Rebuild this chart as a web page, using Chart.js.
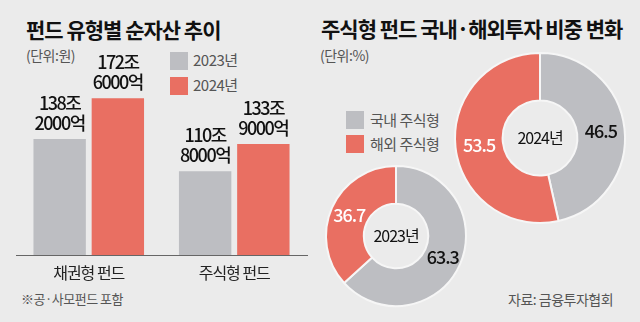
<!DOCTYPE html>
<html>
<head>
<meta charset="utf-8">
<script src="https://cdn.jsdelivr.net/npm/chart.js@4"></script>
<style>
    body { margin: 0; background: #ebebeb; font-family: 'Noto Sans CJK KR', sans-serif; }
    #wrap { position: relative; width: 640px; height: 322px; overflow: hidden; }
    .abs { position: absolute; white-space: nowrap; }
    .title { font-size: 21px; font-weight: bold; color: #111; letter-spacing: -1px; line-height: 1; }
    .unit { font-size: 14px; color: #555; letter-spacing: -0.5px; line-height: 1; }
    .leg { font-size: 15px; color: #555; letter-spacing: -0.5px; line-height: 1; }
    .sw { position: absolute; width: 18px; height: 18px; }
    canvas { position: absolute; }
</style>
</head>
<body>
<div id="wrap">
    <div class="abs title" style="left:26px; top:19px;">펀드 유형별 순자산 추이</div>
    <div class="abs unit" style="left:26px; top:48px;">(단위:원)</div>

    <div class="sw" style="left:170px; top:52px; background:#bdbec2;"></div>
    <div class="abs leg" style="left:193px; top:52px;">2023년</div>
    <div class="sw" style="left:170px; top:77px; background:#e96f62;"></div>
    <div class="abs leg" style="left:193px; top:77px;">2024년</div>

    <div class="abs unit" style="left:21px; top:292px; font-size:13px;">※공·사모펀드 포함</div>

    <div class="abs title" style="left:321px; top:18px;">주식형 펀드 국내·해외투자 비중 변화</div>
    <div class="abs unit" style="left:320px; top:48px;">(단위:%)</div>

    <div class="sw" style="left:346px; top:111px; background:#bdbec2;"></div>
    <div class="abs leg" style="left:370px; top:112px;">국내 주식형</div>
    <div class="sw" style="left:346px; top:135px; background:#e96f62;"></div>
    <div class="abs leg" style="left:370px; top:136px;">해외 주식형</div>

    <div class="abs leg" style="left:508px; top:292px; font-size:14px;">자료: 금융투자협회</div>

    <canvas id="barChart" style="left:0; top:0;" width="320" height="322"></canvas>
    <canvas id="pie2024" style="left:450px; top:48px;" width="180" height="180"></canvas>
    <canvas id="pie2023" style="left:321px; top:161px;" width="150" height="150"></canvas>
</div>

<script>
// 데이터 (단위: 조원)
const categories = ['채권형 펀드', '주식형 펀드'];
const years = ['2023년', '2024년'];
const values2023 = [138.2, 110.8];
const values2024 = [172.6, 133.9];
const labels2023 = [['138조', '2000억'], ['110조', '8000억']];
const labels2024 = [['172조', '6000억'], ['133조', '9000억']];

// 주식형 펀드 국내/해외 비중 (%)
const shareLabels = ['국내 주식형', '해외 주식형'];
const share2023 = [63.3, 36.7];
const share2024 = [46.5, 53.5];

const GRAY = '#bdbec2';
const RED = '#e96f62';
const FONT = "'Noto Sans CJK KR', sans-serif";

//region 막대 차트
const barLabelPlugin = {
    id: 'barLabels',
    afterDraw(chart) {
        const ctx = chart.ctx;
        const all = [labels2023, labels2024];
        ctx.save();
        ctx.fillStyle = '#111';
        ctx.textAlign = 'center';
        ctx.textBaseline = 'bottom';
        ctx.font = '500 18px ' + FONT;
        ctx.letterSpacing = '-1.5px';
        chart.data.datasets.forEach(function (ds, i) {
            chart.getDatasetMeta(i).data.forEach(function (bar, j) {
                let lines = all[i][j];
                ctx.fillText(lines[0], bar.x, bar.y - 27);
                ctx.fillText(lines[1], bar.x, bar.y - 7);
            });
        });
        // 카테고리 라벨
        ctx.font = '16px ' + FONT;
        ctx.letterSpacing = '-1px';
        ctx.fillStyle = '#222';
        ctx.textBaseline = 'middle';
        const xs = chart.scales.x;
        categories.forEach(function (c, k) {
            ctx.fillText(c, xs.getPixelForValue(k), 273);
        });
        ctx.restore();
    }
};

new Chart(document.getElementById('barChart'), {
    type: 'bar',
    data: {
        labels: categories,
        datasets: [{
            label: years[0],
            data: values2023,
            backgroundColor: GRAY
        }, {
            label: years[1],
            data: values2024,
            backgroundColor: RED
        }]
    },
    options: {
        responsive: false,
        animation: false,
        categoryPercentage: 0.8,
        barPercentage: 0.9,
        layout: { padding: { left: 16, right: 13, top: 66, bottom: 67 } },
        plugins: { legend: { display: false }, tooltip: { enabled: false } },
        scales: {
            x: {
                grid: { display: false, drawTicks: false },
                ticks: { display: false },
                border: { display: true, color: '#666', width: 1 }
            },
            y: { display: false, min: 40, max: 200 }
        }
    },
    plugins: [barLabelPlugin]
});
//endregion

//region 도넛 차트
function makeDonut(id, data, yearText, cutout) {
    const donutLabelPlugin = {
        id: 'donutLabels',
        afterDraw(chart) {
            const ctx = chart.ctx;
            const arcs = chart.getDatasetMeta(0).data;
            ctx.save();
            ctx.textAlign = 'center';
            ctx.textBaseline = 'middle';
            ctx.font = '500 18px ' + FONT;
            ctx.letterSpacing = '-1px';
            arcs.forEach(function (arc, i) {
                const p = arc.getCenterPoint();
                ctx.fillStyle = i === 0 ? '#111' : '#fff';
                ctx.fillText(String(data[i]), p.x, p.y);
            });
            const a = arcs[0];
            ctx.fillStyle = '#111';
            ctx.font = '16px ' + FONT;
            ctx.fillText(yearText, a.x, a.y);
            ctx.restore();
        }
    };
    new Chart(document.getElementById(id), {
        type: 'doughnut',
        data: {
            labels: shareLabels,
            datasets: [{
                data: data,
                backgroundColor: [GRAY, RED],
                borderColor: '#f6f6f6',
                borderWidth: 2
            }]
        },
        options: {
            responsive: false,
            animation: false,
            cutout: cutout,
            layout: { padding: 4 },
            plugins: { legend: { display: false }, tooltip: { enabled: false } }
        },
        plugins: [donutLabelPlugin]
    });
}

makeDonut('pie2024', share2024, '2024년', '44%');
makeDonut('pie2023', share2023, '2023년', '46%');
//endregion
</script>
</body>
</html>
